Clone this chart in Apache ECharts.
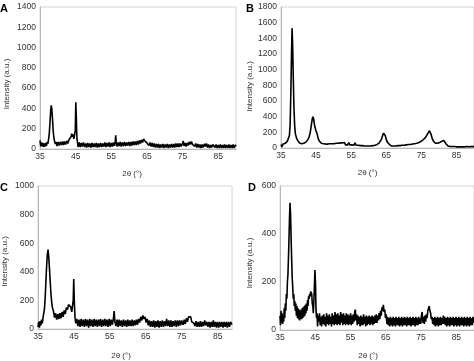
<!DOCTYPE html>
<html><head><meta charset="utf-8">
<script src="https://cdn.jsdelivr.net/npm/echarts@6/dist/echarts.min.js"></script>
<style>html,body{margin:0;padding:0;background:#fff}#c{width:474px;height:361px}</style>
</head><body><div id="c"></div>
<script>
// Panel letters and axis texts
const panelLetters = ['A', 'B', 'C', 'D'];
const yName = 'Intensity (a.u.)';
const xName = '2θ (°)';
// Axis ranges (tick labels)
const yMaxes = [1400, 1800, 1000, 600];
const xMin = 35;
const xMaxes = [90, 90, 89, 90];

// Panel A: [2θ, intensity]
const dataA = [[35.0,85],[35.2,25],[35.4,65],[35.6,25],[35.8,60],[36.0,20],[36.2,55],[36.4,25],[36.6,60],[36.8,30],[37.0,70],[37.2,50],[37.4,95],[37.6,150],[37.8,260],[38.0,380],[38.15,430],[38.3,400],[38.5,300],[38.7,180],[38.9,110],[39.1,75],[39.3,50],[39.5,70],[39.8,30],[40.1,70],[40.4,35],[40.7,70],[41.0,40],[41.3,75],[41.6,40],[41.9,75],[42.2,45],[42.5,80],[42.8,55],[43.1,90],[43.4,75],[43.7,120],[43.9,150],[44.1,120],[44.3,145],[44.5,100],[44.7,110],[44.9,180],[45.05,460],[45.2,300],[45.35,110],[45.5,70],[45.7,20],[46.0,65],[46.3,20],[46.6,60],[46.9,25],[47.2,65],[47.5,20],[47.8,55],[48.1,15],[48.4,60],[48.7,20],[49.0,55],[49.3,15],[49.6,60],[49.9,20],[50.2,55],[50.5,20],[50.8,60],[51.1,15],[51.4,55],[51.7,20],[52.0,60],[52.3,20],[52.6,55],[52.9,25],[53.2,65],[53.5,20],[53.8,60],[54.1,25],[54.4,65],[54.7,20],[55.0,60],[55.3,25],[55.6,65],[55.9,30],[56.1,70],[56.25,135],[56.4,60],[56.6,25],[56.9,65],[57.2,30],[57.5,70],[57.8,25],[58.1,65],[58.4,30],[58.7,70],[59.0,30],[59.3,65],[59.6,35],[59.9,70],[60.2,30],[60.5,70],[60.8,35],[61.1,75],[61.4,40],[61.7,75],[62.0,40],[62.3,80],[62.6,45],[62.9,85],[63.2,55],[63.5,90],[63.8,65],[64.1,100],[64.4,80],[64.7,95],[65.0,60],[65.3,75],[65.6,35],[65.9,65],[66.2,25],[66.5,60],[66.8,20],[67.1,55],[67.4,15],[67.7,50],[68.0,15],[68.3,50],[68.6,10],[68.9,45],[69.2,15],[69.5,50],[69.8,10],[70.1,45],[70.4,15],[70.7,50],[71.0,10],[71.3,45],[71.6,15],[71.9,50],[72.2,15],[72.5,50],[72.8,15],[73.1,55],[73.4,20],[73.7,55],[74.0,20],[74.3,55],[74.6,25],[75.0,55],[75.2,80],[75.4,30],[75.7,60],[76.0,25],[76.3,60],[76.6,35],[76.9,70],[77.2,45],[77.5,75],[77.8,45],[78.1,60],[78.4,25],[78.7,55],[79.0,15],[79.3,50],[79.6,15],[79.9,45],[80.2,10],[80.5,45],[80.8,15],[81.1,50],[81.4,25],[81.7,55],[82.0,15],[82.3,45],[82.6,10],[82.9,40],[83.2,15],[83.5,45],[83.8,50],[84.1,15],[84.4,45],[84.7,10],[85.0,40],[85.3,10],[85.6,45],[85.9,10],[86.2,40],[86.5,10],[86.8,45],[87.1,10],[87.4,40],[87.7,10],[88.0,45],[88.3,10],[88.6,40],[88.9,10],[89.2,45],[89.5,10],[89.8,40],[90.0,25]];

// Panel B
const dataB = [[35.0,45],[35.3,15],[35.6,50],[35.9,25],[36.2,60],[36.5,40],[36.8,85],[37.1,90],[37.4,160],[37.6,300],[37.8,700],[38.0,1200],[38.15,1530],[38.3,1350],[38.5,900],[38.7,500],[38.9,280],[39.1,180],[39.4,130],[39.7,100],[40.0,95],[40.3,65],[40.6,80],[40.9,55],[41.2,75],[41.5,60],[41.8,85],[42.1,75],[42.4,100],[42.7,110],[43.0,140],[43.3,190],[43.6,280],[43.9,370],[44.1,400],[44.3,370],[44.6,280],[44.9,230],[45.1,240],[45.3,180],[45.6,120],[45.9,90],[46.2,70],[46.5,60],[46.8,40],[47.1,55],[47.4,30],[47.7,50],[48.0,25],[48.3,50],[48.6,25],[48.9,55],[49.2,30],[49.5,55],[49.8,30],[50.1,55],[50.4,30],[50.7,60],[51.0,35],[51.3,60],[51.6,35],[51.9,65],[52.2,40],[52.5,65],[52.8,40],[53.1,70],[53.4,40],[53.7,65],[54.0,40],[54.3,70],[54.6,40],[54.9,65],[55.2,40],[55.5,65],[55.8,35],[56.1,65],[56.4,35],[56.7,60],[57.0,35],[57.3,60],[57.6,30],[57.9,55],[58.2,30],[58.5,55],[58.8,25],[59.1,50],[59.4,25],[59.7,50],[60.0,25],[60.3,50],[60.6,25],[60.9,50],[61.2,30],[61.5,55],[61.8,35],[62.1,60],[62.4,45],[62.7,70],[63.0,65],[63.3,90],[63.6,110],[63.9,150],[64.2,190],[64.45,205],[64.7,160],[65.0,110],[65.3,75],[65.6,55],[65.9,45],[66.2,45],[66.5,25],[66.8,45],[67.1,25],[67.4,45],[67.7,25],[68.0,50],[68.3,30],[68.6,50],[68.9,30],[69.2,55],[69.5,35],[69.8,55],[70.1,35],[70.4,60],[70.7,40],[71.0,60],[71.3,45],[71.6,65],[71.9,45],[72.2,70],[72.5,50],[72.8,75],[73.1,55],[73.4,75],[73.7,60],[74.0,85],[74.3,70],[74.6,95],[74.9,85],[75.2,105],[75.5,105],[75.8,125],[76.1,130],[76.4,155],[76.7,175],[77.0,200],[77.3,220],[77.5,215],[77.8,170],[78.1,120],[78.4,90],[78.7,70],[79.0,60],[79.3,50],[79.6,60],[79.9,55],[80.2,70],[80.5,75],[80.8,85],[81.1,90],[81.4,95],[81.7,80],[82.0,55],[82.3,40],[82.6,25],[82.9,40],[83.2,20],[83.5,40],[83.8,20],[84.1,40],[84.4,20],[84.7,35],[85.0,15],[85.3,35],[85.6,15],[85.9,35],[86.2,15],[86.5,35],[86.8,15],[87.1,35],[87.4,15],[87.7,35],[88.0,20],[88.3,35],[88.6,15],[88.9,35],[89.2,20],[89.5,35],[89.8,15],[90.0,30]];

// Panel C
const dataC = [[35.0,15],[35.2,50],[35.4,10],[35.6,55],[35.8,25],[36.0,65],[36.2,40],[36.4,80],[36.6,85],[36.8,140],[37.0,220],[37.2,330],[37.4,440],[37.6,520],[37.8,555],[38.0,500],[38.2,420],[38.4,330],[38.6,250],[38.8,190],[39.0,150],[39.3,125],[39.6,80],[39.9,110],[40.2,65],[40.5,105],[40.8,70],[41.1,110],[41.4,75],[41.7,120],[42.0,85],[42.3,130],[42.6,105],[42.9,150],[43.2,135],[43.5,170],[43.8,160],[44.1,155],[44.4,120],[44.6,125],[44.8,200],[44.95,350],[45.1,200],[45.3,80],[45.5,40],[45.8,70],[46.1,20],[46.4,65],[46.7,15],[47.0,70],[47.3,20],[47.6,65],[47.9,15],[48.2,70],[48.5,20],[48.8,65],[49.1,10],[49.4,70],[49.7,20],[50.0,65],[50.3,15],[50.6,70],[50.9,20],[51.2,65],[51.5,15],[51.8,65],[52.1,20],[52.4,70],[52.7,15],[53.0,65],[53.3,20],[53.6,70],[53.9,20],[54.2,65],[54.5,15],[54.8,70],[55.1,20],[55.4,65],[55.7,30],[56.0,75],[56.2,125],[56.4,50],[56.7,20],[57.0,65],[57.3,15],[57.6,65],[57.9,20],[58.2,60],[58.5,15],[58.8,65],[59.1,20],[59.4,60],[59.7,15],[60.0,65],[60.3,20],[60.6,60],[60.9,20],[61.2,65],[61.5,20],[61.8,60],[62.1,25],[62.4,65],[62.7,30],[63.0,70],[63.3,45],[63.6,85],[63.9,60],[64.2,95],[64.5,70],[64.8,85],[65.1,45],[65.4,70],[65.7,25],[66.0,60],[66.3,15],[66.6,55],[66.9,15],[67.2,60],[67.5,10],[67.8,55],[68.1,15],[68.4,60],[68.7,10],[69.0,55],[69.3,15],[69.6,60],[69.9,15],[70.2,55],[70.5,20],[70.8,70],[71.1,20],[71.4,60],[71.7,15],[72.0,60],[72.3,15],[72.6,55],[72.9,20],[73.2,60],[73.5,15],[73.8,60],[74.1,20],[74.4,60],[74.7,25],[75.0,60],[75.2,70],[75.4,30],[75.7,65],[76.0,35],[76.3,75],[76.6,50],[76.9,85],[77.2,80],[77.5,85],[77.8,50],[78.1,55],[78.4,40],[78.7,20],[79.0,55],[79.3,15],[79.6,50],[79.9,15],[80.2,55],[80.5,15],[80.8,50],[81.1,20],[81.4,60],[81.7,25],[82.0,50],[82.3,15],[82.6,50],[82.9,10],[83.2,50],[83.5,15],[83.8,60],[84.1,15],[84.4,50],[84.7,10],[85.0,50],[85.3,10],[85.6,50],[85.9,15],[86.2,50],[86.5,10],[86.8,50],[87.1,15],[87.4,50],[87.7,10],[88.0,50],[88.3,15],[88.6,50],[89.0,30]];

// Panel D
const dataD = [[35.0,60],[35.15,20],[35.3,80],[35.45,30],[35.6,70],[35.75,25],[35.9,60],[36.05,35],[36.2,90],[36.35,50],[36.5,110],[36.65,80],[36.8,150],[36.95,130],[37.1,200],[37.25,230],[37.4,300],[37.55,380],[37.7,470],[37.85,530],[38.0,480],[38.15,380],[38.3,300],[38.45,220],[38.6,180],[38.75,130],[38.9,150],[39.05,100],[39.2,120],[39.35,80],[39.5,110],[39.65,60],[39.8,100],[39.95,50],[40.1,90],[40.25,45],[40.4,85],[40.55,40],[40.7,80],[40.85,45],[41.0,85],[41.15,45],[41.3,90],[41.45,50],[41.6,95],[41.75,55],[41.9,100],[42.05,60],[42.2,105],[42.35,70],[42.5,110],[42.65,80],[42.8,125],[42.95,100],[43.1,140],[43.25,130],[43.4,150],[43.55,140],[43.7,160],[43.85,165],[44.0,150],[44.15,110],[44.3,100],[44.45,70],[44.6,120],[44.75,180],[44.9,250],[45.05,200],[45.2,90],[45.35,50],[45.5,70],[45.65,15],[45.8,60],[46.0,35],[46.2,70],[46.4,20],[46.6,55],[46.8,15],[47.0,60],[47.2,25],[47.4,65],[47.6,20],[47.8,55],[48.0,15],[48.2,70],[48.4,25],[48.6,60],[48.8,20],[49.0,65],[49.2,25],[49.4,55],[49.6,15],[49.8,70],[50.0,25],[50.2,60],[50.4,20],[50.6,75],[50.8,25],[51.0,65],[51.2,20],[51.4,70],[51.6,25],[51.8,60],[52.0,20],[52.2,75],[52.4,30],[52.6,65],[52.8,20],[53.0,70],[53.2,25],[53.4,60],[53.6,20],[53.8,70],[54.0,25],[54.2,65],[54.4,20],[54.6,60],[54.8,25],[55.0,70],[55.2,20],[55.4,60],[55.6,25],[55.8,65],[56.0,35],[56.2,75],[56.35,85],[56.5,40],[56.7,65],[56.9,20],[57.1,60],[57.3,25],[57.5,55],[57.7,15],[57.9,60],[58.1,20],[58.3,55],[58.5,20],[58.7,65],[58.9,25],[59.1,55],[59.3,15],[59.5,60],[59.7,20],[59.9,55],[60.1,25],[60.3,60],[60.5,20],[60.7,55],[60.9,25],[61.1,60],[61.3,20],[61.5,55],[61.7,25],[61.9,60],[62.1,30],[62.3,65],[62.5,30],[62.7,60],[62.9,40],[63.1,70],[63.3,45],[63.5,80],[63.7,60],[63.9,95],[64.1,80],[64.3,105],[64.5,75],[64.7,85],[64.9,50],[65.1,65],[65.3,25],[65.5,55],[65.7,20],[65.9,50],[66.1,15],[66.3,55],[66.5,20],[66.7,50],[66.9,15],[67.1,55],[67.3,20],[67.5,50],[67.7,15],[67.9,55],[68.1,20],[68.3,50],[68.5,20],[68.7,55],[68.9,15],[69.1,50],[69.3,20],[69.5,55],[69.7,15],[69.9,50],[70.1,20],[70.3,55],[70.5,20],[70.7,50],[70.9,15],[71.1,55],[71.3,20],[71.5,50],[71.7,20],[71.9,55],[72.1,15],[72.3,50],[72.5,20],[72.7,55],[72.9,20],[73.1,50],[73.3,15],[73.5,55],[73.7,20],[73.9,50],[74.1,20],[74.3,55],[74.5,25],[74.7,50],[74.9,25],[75.1,60],[75.3,75],[75.5,30],[75.7,55],[75.9,25],[76.1,60],[76.3,35],[76.5,65],[76.7,50],[76.9,80],[77.1,75],[77.3,100],[77.5,80],[77.7,70],[77.9,45],[78.1,55],[78.3,25],[78.5,50],[78.7,20],[78.9,55],[79.1,15],[79.3,50],[79.5,20],[79.7,55],[79.9,15],[80.1,50],[80.3,20],[80.5,55],[80.7,20],[80.9,50],[81.1,25],[81.3,60],[81.5,25],[81.7,55],[81.9,20],[82.1,50],[82.3,15],[82.5,55],[82.7,20],[82.9,50],[83.1,15],[83.3,55],[83.5,20],[83.7,50],[83.9,20],[84.1,55],[84.3,15],[84.5,50],[84.7,20],[84.9,55],[85.1,15],[85.3,50],[85.5,20],[85.7,55],[85.9,15],[86.1,50],[86.3,20],[86.5,55],[86.7,20],[86.9,50],[87.1,15],[87.3,55],[87.5,20],[87.7,50],[87.9,15],[88.1,55],[88.3,20],[88.5,50],[88.7,15],[88.9,55],[89.1,20],[89.3,50],[89.5,20],[89.7,55],[90.0,30]];

const allData = [dataA, dataB, dataC, dataD];

const FONT = 'Liberation Sans, Arial, sans-serif';
const grids = [
  {left: 40, top: 7, width: 196, height: 142},
  {left: 281, top: 7, width: 193, height: 141},
  {left: 38, top: 186, width: 194, height: 145},
  {left: 280, top: 186, width: 194, height: 146}
];
const yGaps = [29, 27, 29, 26];
const yShift = [12, 18, 8, 10];
const xGaps = [21, 21, 23, 22];
const xShift = [12, 20, 28, 18];
const letterPos = [[0, 3], [246, 3], [0, 182], [248, 182]];

const option = {
  animation: false,
  backgroundColor: '#fff',
  grid: grids.map(g => Object.assign({show: true, borderColor: '#d4d4d4', borderWidth: 1, backgroundColor: 'transparent'}, g)),
  xAxis: grids.map((g, i) => ({
    type: 'value', gridIndex: i, min: xMin, max: xMaxes[i], interval: 10,
    name: xName, nameLocation: 'middle', nameGap: xGaps[i],
    nameTextStyle: {fontFamily: FONT, fontSize: 8, color: '#333', padding: [0, xShift[i], 0, 0]},
    axisLine: {show: true, lineStyle: {color: '#b8b8b8', width: 1}},
    axisTick: {show: false},
    splitLine: {show: false},
    axisLabel: {fontFamily: FONT, fontSize: 8.5, color: '#333', margin: 3, showMaxLabel: false,
      formatter: v => String(v)}
  })),
  yAxis: grids.map((g, i) => ({
    type: 'value', gridIndex: i, min: 0, max: yMaxes[i], interval: 200,
    name: yName, nameLocation: 'middle', nameGap: yGaps[i], nameRotate: 90,
    nameTextStyle: {fontFamily: FONT, fontSize: 8, color: '#333', padding: [0, yShift[i], 0, 0]},
    axisLine: {show: true, lineStyle: {color: '#b8b8b8', width: 1}},
    axisTick: {show: false},
    splitLine: {show: false},
    axisLabel: {fontFamily: FONT, fontSize: 8.5, color: '#333', margin: 4, formatter: v => String(v)}
  })),
  series: allData.map((d, i) => ({
    type: 'line', xAxisIndex: i, yAxisIndex: i, data: d,
    showSymbol: false, symbol: 'none',
    lineStyle: {color: '#000', width: 1.6},
    silent: true
  })),
  graphic: panelLetters.map((t, i) => ({
    type: 'text', left: letterPos[i][0], top: letterPos[i][1],
    style: {text: t, font: 'bold 11px ' + FONT, fill: '#000'}
  }))
};
const chart = echarts.init(document.getElementById('c'), null, {renderer: 'canvas'});
chart.setOption(option);
</script>
</body></html>
